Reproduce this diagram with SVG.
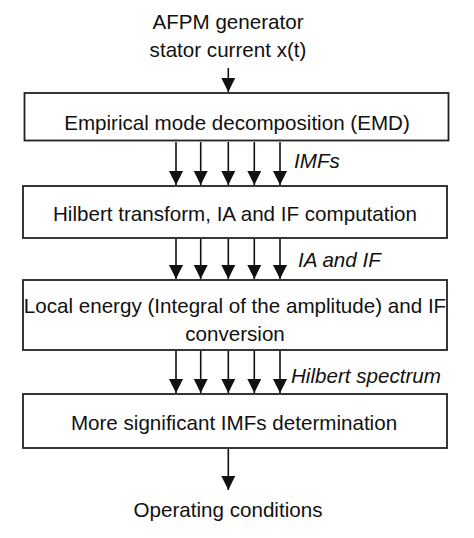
<svg xmlns="http://www.w3.org/2000/svg" width="474" height="538" viewBox="0 0 474 538">
<style>
.box{fill:#fff;stroke:#222;stroke-width:1.8}
.t{font-family:"Liberation Sans",Arial,sans-serif;font-size:20.6px;fill:#111;text-anchor:middle}
.l{font-family:"Liberation Sans",Arial,sans-serif;font-size:20.6px;fill:#111;font-style:italic}
.c{stroke:#111;stroke-width:1.6;fill:none;marker-end:url(#ah)}
</style>
<defs>
<marker id="ah" markerUnits="userSpaceOnUse" viewBox="0 0 14 14" refX="14" refY="7" markerWidth="14" markerHeight="14" orient="auto">
<path d="M0,0 L14,7 L0,14 z" fill="#111"/>
</marker>
</defs>
<rect width="474" height="538" fill="#fff"/>
<g id="input">
<text class="t" x="228" y="29">AFPM generator</text>
<text class="t" x="228" y="57">stator current x(t)</text>
</g>
<g id="emd">
<rect class="box" x="24.5" y="93" width="424" height="47.5"/>
<text class="t" x="237" y="130">Empirical mode decomposition (EMD)</text>
</g>
<g id="hilbert">
<rect class="box" x="23" y="186" width="424" height="52"/>
<text class="t" x="235" y="221">Hilbert transform, IA and IF computation</text>
</g>
<g id="energy">
<rect class="box" x="23" y="280" width="424" height="70"/>
<text class="t" x="235" y="313">Local energy (Integral of the amplitude) and IF</text>
<text class="t" x="235" y="341">conversion</text>
</g>
<g id="imfs">
<rect class="box" x="23" y="394" width="424" height="54"/>
<text class="t" x="234" y="430">More significant IMFs determination</text>
</g>
<g id="output">
<text class="t" x="228" y="517">Operating conditions</text>
</g>
<g id="connectors">
<line class="c" x1="228.3" y1="68" x2="228.3" y2="92"/>
<line class="c" x1="176" y1="142" x2="176" y2="185"/>
<line class="c" x1="200.7" y1="142" x2="200.7" y2="185"/>
<line class="c" x1="228.3" y1="142" x2="228.3" y2="185"/>
<line class="c" x1="254.3" y1="142" x2="254.3" y2="185"/>
<line class="c" x1="280" y1="142" x2="280" y2="185"/>
<line class="c" x1="176" y1="239" x2="176" y2="279"/>
<line class="c" x1="200.7" y1="239" x2="200.7" y2="279"/>
<line class="c" x1="228.3" y1="239" x2="228.3" y2="279"/>
<line class="c" x1="254.3" y1="239" x2="254.3" y2="279"/>
<line class="c" x1="280" y1="239" x2="280" y2="279"/>
<line class="c" x1="176" y1="351" x2="176" y2="393"/>
<line class="c" x1="200.7" y1="351" x2="200.7" y2="393"/>
<line class="c" x1="228.3" y1="351" x2="228.3" y2="393"/>
<line class="c" x1="254.3" y1="351" x2="254.3" y2="393"/>
<line class="c" x1="280" y1="351" x2="280" y2="393"/>
<line class="c" x1="228.3" y1="449" x2="228.3" y2="490"/>
<text class="l" x="294" y="168">IMFs</text>
<text class="l" x="298" y="267">IA and IF</text>
<text class="l" x="291" y="383">Hilbert spectrum</text>
</g>
</svg>
